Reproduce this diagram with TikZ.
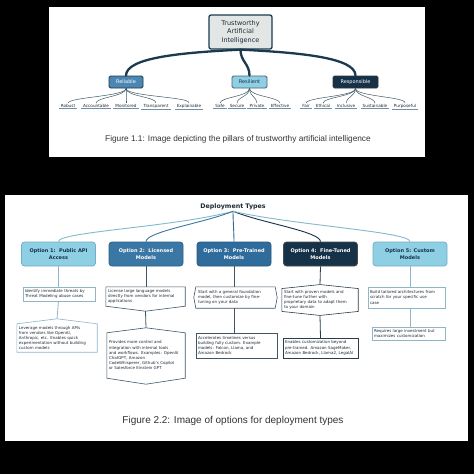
\documentclass[tikz,border=0pt]{standalone}
\usepackage{fontspec}
\setmainfont{DejaVu Sans}
\newfontfamily\capfont{Liberation Sans}
\usetikzlibrary{calc}
\definecolor{navy}{HTML}{1B3A4F}
\definecolor{deepnavy}{HTML}{163248}
\definecolor{midblue}{HTML}{3A77A5}
\definecolor{midblueB}{HTML}{2F6C9C}
\definecolor{relblue}{HTML}{4C86B3}
\definecolor{lightblue}{HTML}{8FCFE3}
\definecolor{lightedge}{HTML}{6FAFC8}
\definecolor{rootfill}{HTML}{E2E7E6}
\definecolor{leafline}{HTML}{6F8FA8}
\definecolor{txt}{HTML}{1E2A33}
\definecolor{capgrey}{HTML}{333333}
\definecolor{edgeA}{HTML}{8FB6C8}
\definecolor{edgeB}{HTML}{3F5668}
\definecolor{edgeC}{HTML}{2A3C4A}
\tikzset{
  rootbox/.style={draw=navy, line width=1.3pt, fill=rootfill, rounded corners=2pt,
    minimum width=63pt, minimum height=34pt, align=center, text=txt,
    font=\fontsize{6.5}{8.3}\selectfont, inner sep=1pt},
  grp/.style={rounded corners=1.5pt, minimum height=12pt, line width=0.8pt,
    font=\fontsize{5}{6}\selectfont, inner sep=1pt},
  leaf/.style={font=\fontsize{4.2}{5}\selectfont, text=txt, inner sep=1pt},
  thickcurve/.style={draw=navy, line width=2.3pt, line cap=round},
  leafcurve/.style={draw=navy!85, line width=0.5pt},
  underl/.style={draw=leafline, line width=0.9pt},
  opt/.style={rounded corners=3pt, minimum width=74pt, minimum height=24pt, align=center,
    font=\bfseries\fontsize{5}{7}\selectfont, line width=0.7pt, inner sep=1pt},
  desc/.style={align=left, font=\fontsize{4}{5.2}\selectfont, text=txt, inner sep=1.5pt},
  caption/.style={font=\capfont, text=capgrey, inner sep=0pt}
}
\begin{document}
\begin{tikzpicture}[x=1pt,y=-1pt]
\useasboundingbox (0,0) rectangle (474,474);
\fill[black] (0,0) rectangle (474,474);
\fill[white] (49,7) rectangle (425,157);
\fill[white] (5,195) rectangle (468,441);

% ---------------- top panel ----------------
\node[rootbox] (root) at (240.5,32) {Trustworthy\\Artificial\\Intelligence};
\node[grp, draw=navy, fill=relblue, text=white, minimum width=34pt] (rel) at (126,82) {Reliable};
\node[grp, draw=navy!80, fill=lightblue, text=deepnavy, minimum width=35pt] (res) at (249.5,82) {Resilient};
\node[grp, draw=black!80, fill=deepnavy, text=white, minimum width=45pt] (resp) at (355.5,82) {Responsible};

\draw[thickcurve] (root.south) .. controls +(-60,3) and +(0,-18) .. (rel.north);
\draw[thickcurve] (root.south) .. controls +(0,12) and +(0,-12) .. (res.north);
\draw[thickcurve] (root.south) .. controls +(60,3) and +(0,-18) .. (resp.north);

\foreach \n/\x/\t in {lr/68/Robust, la/96/Accountable, lm/126/Monitored, lt/156/Transparent, le/189/Explainable,
  ls/220/Safe, lse/237/Secure, lp/257/Private, lef/280/Effective,
  lf/306/Fair, let/323/Ethical, li/346/Inclusive, lsu/375/Sustainable, lpu/405/Purposeful}
  \node[leaf] (\n) at (\x,106) {\t};

\foreach \n in {lr,la,lm,lt,le,ls,lse,lp,lef,lf,let,li,lsu,lpu}
  \draw[underl] ([xshift=-1pt]\n.south west) -- ([xshift=1pt]\n.south east);

\foreach \n in {lr,la,lm,lt,le}
  \draw[leafcurve] (rel.south) .. controls +(0,8) and +(0,-6) .. (\n.north);
\foreach \n in {ls,lse,lp,lef}
  \draw[leafcurve] (res.south) .. controls +(0,8) and +(0,-6) .. (\n.north);
\foreach \n in {lf,let,li,lsu,lpu}
  \draw[leafcurve] (resp.south) .. controls +(0,8) and +(0,-6) .. (\n.north);

\node[caption, font=\capfont\fontsize{8.3}{10}\selectfont] (cap1) at (238,139)
  {Figure 1.1: Image depicting the pillars of trustworthy artificial intelligence};

% ---------------- bottom panel ----------------
\node[font=\bfseries\fontsize{6.3}{8}\selectfont, text=txt, inner sep=1pt] (dt) at (233,207) {Deployment Types};

\node[opt, draw=lightedge, fill=lightblue, text=deepnavy] (o1) at (58.5,254) {Option 1:\ \ Public API\\Access};
\node[opt, draw=midblue!80!black, fill=midblue, text=white] (o2) at (146,254) {Option 2:\ \ Licensed\\Models};
\node[opt, draw=midblueB!80!black, fill=midblueB, text=white] (o3) at (234,254) {Option 3:\ \ Pre-Trained\\Models};
\node[opt, draw=black!70, fill=deepnavy, text=white] (o4) at (320.5,254) {Option 4:\ \ Fine-Tuned\\Models};
\node[opt, draw=lightedge, fill=lightblue, text=deepnavy] (o5) at (410,254) {Option 5: Custom\\Models};

\draw[draw=lightblue!90!black, line width=0.9pt] (dt.south) .. controls +(-60,16) and +(0,-10) .. (o1.north);
\draw[draw=midblue, line width=0.9pt] (dt.south) .. controls +(-30,12) and +(0,-10) .. (o2.north);
\draw[draw=midblueB, line width=0.9pt] (dt.south) .. controls +(0,8) and +(0,-8) .. (o3.north);
\draw[draw=deepnavy, line width=0.9pt] (dt.south) .. controls +(30,12) and +(0,-10) .. (o4.north);
\draw[draw=lightblue!90!black, line width=0.9pt] (dt.south) .. controls +(60,14) and +(0,-10) .. (o5.north);

% description nodes
\node[desc, minimum width=72pt, minimum height=14pt, text width=68pt] (d11) at (59,294)
  {Identify immediate threats by\\Threat Modeling abuse cases};
\node[desc, minimum width=80pt, minimum height=28pt, text width=76pt] (d12) at (57,338)
  {Leverage models through APIs\\from vendors like OpenAI,\\Anthropic, etc. Enables quick\\experimentation without building\\custom models};
\node[desc, minimum width=79pt, minimum height=19pt, text width=75pt] (d21) at (145.5,296.5)
  {License large language models\\directly from vendors for internal\\applications};
\node[desc, minimum width=78pt, minimum height=45pt, text width=74pt] (d22) at (146,355.5)
  {Provides more control and\\integration with internal tools\\and workflows. Examples: OpenAI\\ChatGPT, Amazon\\CodeWhisperer, Github's Copilot\\or Salesforce Einstein GPT};
\node[desc, minimum width=79pt, minimum height=21pt, text width=75pt] (d31) at (235.5,297.5)
  {Start with a general foundation\\model, then customize by fine-\\tuning on your data};
\node[desc, minimum width=81pt, minimum height=25pt, text width=77pt] (d32) at (236.5,345.5)
  {Accelerates timelines versus\\building fully custom. Example\\models: Falcon, Llama, and\\Amazon Bedrock};
\node[desc, minimum width=76pt, minimum height=22pt, text width=72pt] (d41) at (320,300)
  {Start with proven models and\\fine-tune further with\\proprietary data to adapt them\\to your domain};
\node[desc, minimum width=75pt, minimum height=20pt, text width=71pt] (d42) at (320.5,348)
  {Enables customization beyond\\pre-trained. Amazon SageMaker,\\Amazon Bedrock, Llama2, LegalAI};
\node[desc, minimum width=77pt, minimum height=21pt, text width=73pt] (d51) at (406.5,297.5)
  {Build tailored architectures from\\scratch for your specific use\\case};
\node[desc, minimum width=73pt, minimum height=13pt, text width=69pt] (d52) at (408.5,333.5)
  {Requires large investment but\\maximizes customization};

% peak points
\coordinate (p12t) at ($(d12.north)+(0,-5)$);
\coordinate (p21b) at ($(d21.south)+(0,5)$);
\coordinate (p22t) at ($(d22.north)+(0,-5)$);
\coordinate (p22b) at ($(d22.south)+(0,6)$);
\coordinate (p41t) at ($(d41.north)+(0,-4)$);
\coordinate (p41b) at ($(d41.south)+(0,4)$);

% vertical connectors
\draw[edgeA, line width=0.8pt] (o1.south) -- (o1.south |- d11.north);
\draw[edgeA, line width=0.8pt] (o1.south |- d11.south) -- (p12t);
\draw[edgeB, line width=0.8pt] (o2.south) -- (o2.south |- d21.north);
\draw[edgeB, line width=0.8pt] (p21b) -- (p22t);
\draw[edgeB, line width=0.8pt] (o3.south) -- (o3.south |- d31.north);
\draw[edgeB, line width=0.8pt] (o3.south |- d31.south) -- (o3.south |- d32.north);
\draw[edgeC, line width=0.8pt] (o4.south) -- (p41t);
\draw[edgeC, line width=0.8pt] (p41b) -- (o4.south |- d42.north);
\draw[edgeA, line width=0.8pt] (o5.south) -- (o5.south |- d51.north);
\draw[edgeA, line width=0.8pt] (o5.south |- d51.south) -- (o5.south |- d52.north);

% description outlines
\draw[edgeA, line width=0.6pt] (d11.north west) rectangle (d11.south east);
\draw[edgeA, line width=0.6pt] (d12.south west) -- (d12.north west) -- (p12t) -- (d12.north east) -- (d12.south east) -- cycle;
\draw[edgeB, line width=0.6pt] (d21.north west) -- (d21.north east) -- (d21.south east) -- (p21b) -- (d21.south west) -- cycle;
\draw[edgeB, line width=0.6pt] (d22.north west) -- (p22t) -- (d22.north east) -- (d22.south east) -- (p22b) -- (d22.south west) -- cycle;
\draw[edgeB, line width=0.6pt] (d31.north west) -- (d31.north east) -- ($(d31.east)+(2,0)$) -- (d31.south east) -- (d31.south west) -- ($(d31.west)+(-2,0)$) -- cycle;
\draw[edgeB, line width=0.6pt] (d32.north west) rectangle (d32.south east);
\draw[edgeC, line width=0.6pt] (d41.north west) -- (p41t) -- (d41.north east) -- (d41.south east) -- (p41b) -- (d41.south west) -- cycle;
\draw[edgeC, line width=0.6pt] (d42.north west) rectangle (d42.south east);
\draw[edgeA, line width=0.6pt] (d51.north west) rectangle (d51.south east);
\draw[edgeA, line width=0.6pt] (d52.north west) rectangle (d52.south east);

\node[caption, font=\capfont\fontsize{10}{12}\selectfont] (cap2) at (233,421)
  {Figure 2.2: Image of options for deployment types};
\end{tikzpicture}
\end{document}
